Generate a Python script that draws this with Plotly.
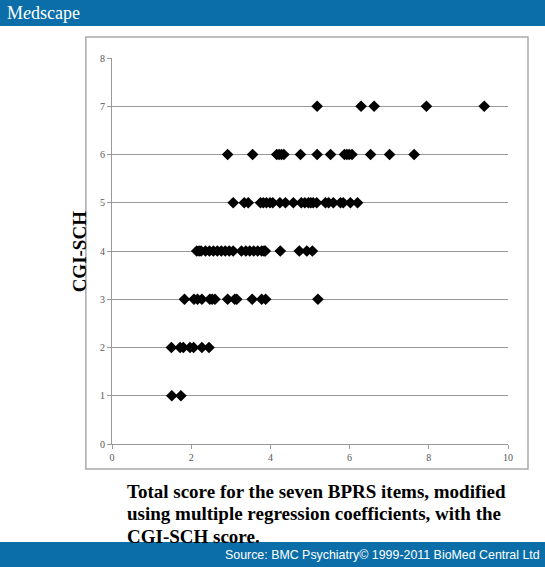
import plotly.graph_objects as go

# BPRS modified total score for each CGI-SCH level
bprs_1 = [1.51, 1.74]
bprs_2 = [1.50, 1.72, 1.80, 1.97, 2.06, 2.27, 2.45]
bprs_3 = [1.83, 2.07, 2.16, 2.27, 2.47, 2.53, 2.60, 2.92, 3.10, 3.15, 3.54, 3.78, 3.88, 5.20]
bprs_4 = [2.14, 2.20, 2.25, 2.36, 2.46, 2.56, 2.66, 2.76, 2.86, 2.96, 3.06, 3.27, 3.38, 3.48,
          3.58, 3.68, 3.78, 3.84, 3.87, 4.25, 4.73, 4.92, 5.06]
bprs_5 = [3.06, 3.34, 3.44, 3.75, 3.82, 3.90, 3.99, 4.06, 4.24, 4.38, 4.58, 4.78, 4.87, 4.96,
          5.02, 5.08, 5.17, 5.39, 5.47, 5.59, 5.77, 5.84, 6.02, 6.20]
bprs_6 = [2.92, 3.55, 4.16, 4.22, 4.28, 4.34, 4.76, 5.18, 5.52, 5.87, 5.93, 5.99, 6.06,
          6.53, 7.01, 7.63]
bprs_7 = [5.18, 6.29, 6.62, 7.94, 9.40]

cgi_levels = [1, 2, 3, 4, 5, 6, 7]
rows = [bprs_1, bprs_2, bprs_3, bprs_4, bprs_5, bprs_6, bprs_7]

x = []
y = []
for lvl, row in zip(cgi_levels, rows):
    for v in row:
        x.append(v)
        y.append(lvl)

x_ticks = [0, 2, 4, 6, 8, 10]
y_ticks = [0, 1, 2, 3, 4, 5, 6, 7, 8]

caption_lines = ["Total score for the seven BPRS items, modified",
                 "using multiple regression coefficients, with the",
                 "CGI-SCH score."]
source = "Source: BMC Psychiatry\u00a9 1999-2011 BioMed Central Ltd"

blue = "#0b6ea8"
serif = "Liberation Serif, Times New Roman, serif"

fig = go.Figure()
fig.add_trace(go.Scatter(x=x, y=y, mode="markers",
                         marker=dict(symbol="diamond", size=9, color="black"),
                         showlegend=False))

fig.update_layout(
    width=545, height=567,
    margin=dict(l=112, r=37, t=58, b=123),
    paper_bgcolor="white", plot_bgcolor="white",
    font=dict(family=serif, size=10, color="#444"),
)
fig.update_xaxes(range=[0, 10], tickvals=x_ticks, showgrid=False, zeroline=False,
                 showline=True, linecolor="#999", linewidth=1,
                 ticks="outside", ticklen=4, tickcolor="#999",
                 tickfont=dict(family=serif, size=10, color="#555"))
fig.update_yaxes(range=[0, 8], tickvals=y_ticks, showgrid=True, gridcolor="#999",
                 gridwidth=1, zeroline=False, showline=True, linecolor="#999", linewidth=1,
                 ticks="outside", ticklen=4, tickcolor="#999",
                 tickfont=dict(family=serif, size=10, color="#555"))

# chart frame, header and footer bars
fig.add_shape(type="rect", xref="paper", yref="paper", x0=-0.066, x1=1.0505,
              y0=-0.0648, y1=1.0544, line=dict(color="#aaa", width=1.5), layer="below")
fig.add_shape(type="rect", xref="paper", yref="paper", x0=-0.3, x1=1.1,
              y0=1.083, y1=1.16, line=dict(width=0), fillcolor=blue)
fig.add_shape(type="rect", xref="paper", yref="paper", x0=-0.3, x1=1.1,
              y0=-0.33, y1=-0.2539, line=dict(width=0), fillcolor=blue)

fig.add_annotation(text="M<i>e</i>dscape", xref="paper", yref="paper",
                   x=-0.27, y=1.117, xanchor="left", yanchor="middle", showarrow=False,
                   font=dict(family=serif, size=18, color="white"))
fig.add_annotation(text=source, xref="paper", yref="paper",
                   x=1.086, y=-0.287, xanchor="right", yanchor="middle", showarrow=False,
                   font=dict(family="Liberation Sans, Arial, sans-serif", size=12.4,
                             color="white"))
fig.add_annotation(text="<b>CGI-SCH</b>", xref="paper", yref="paper",
                   x=-0.114, y=0.5, textangle=-90, showarrow=False,
                   font=dict(family=serif, size=19, color="black"))
# caption, one annotation per line (22.5 px apart)
for i, line in enumerate(caption_lines):
    fig.add_annotation(text="<b>" + line + "</b>", xref="paper", yref="paper",
                       x=0.033, y=(444 - 491 - 22.5 * i) / 386, xanchor="left",
                       yanchor="middle", showarrow=False,
                       font=dict(family=serif, size=19, color="black"))

fig.write_html("out.html", config={"displayModeBar": False},
               post_script="document.body.style.margin='0';")
